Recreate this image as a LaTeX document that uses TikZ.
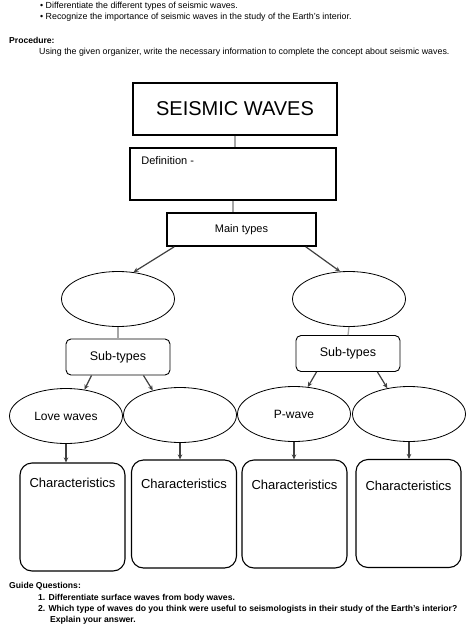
\documentclass[tikz,border=0pt]{standalone}
\usepackage{fontspec}
\setmainfont{Liberation Sans}
\usetikzlibrary{positioning,arrows.meta,shapes.geometric}

\begin{document}
\begin{tikzpicture}[
  x=1pt, y=-1pt,
  font=\fontsize{11}{13}\selectfont,
  hdr/.style={anchor=west, inner sep=0pt, font=\fontsize{8.85}{10}\selectfont},
  qline/.style={anchor=west, inner sep=0pt, font=\fontsize{8.6}{10}\selectfont\bfseries},
  bigbox/.style={draw, line width=1.6pt, inner sep=0pt},
  oval/.style={draw, ellipse, line width=0.8pt, minimum width=113pt,
               minimum height=55pt, inner sep=0pt, font=\fontsize{12}{14}\selectfont},
  subbox/.style={draw, rounded corners=5pt, line width=0.9pt, minimum width=104pt,
                 minimum height=36pt, font=\fontsize{12.5}{14}\selectfont},
  charbox/.style={draw, rounded corners=12pt, line width=1.1pt,
                  minimum width=105pt, minimum height=108pt},
  chartxt/.style={inner sep=0pt, font=\fontsize{13}{15}\selectfont},
  link/.style={gray!70, line width=1.3pt},
  arr/.style={-{Stealth[length=5pt,width=4.5pt]}, line width=1.2pt, black!75}
]
\fill[white] (0,0) rectangle (471,630);
\useasboundingbox (0,0) rectangle (471,630);

% header
\node[hdr] (obj1) at (40,6)  {\textbullet\ Differentiate the different types of seismic waves.};
\node[hdr] (obj2) at (40,17) {\textbullet\ Recognize the importance of seismic waves in the study of the Earth's interior.};
\node[qline] (proc) at (9,40) {Procedure:};
\node[hdr] (proctxt) at (39,52) {Using the given organizer, write the necessary information to complete the concept about seismic waves.};

% organizer
\node[bigbox, minimum width=204pt, minimum height=52pt, font=\fontsize{20}{22}\selectfont] (title) at (235,109) {SEISMIC WAVES\hspace{6pt}};
\node[bigbox, minimum width=206pt, minimum height=52pt] (defn) at (233,174) {};
\node[anchor=west, inner sep=0pt] (deftxt) at ([xshift=12pt,yshift=-13pt]defn.north west) {Definition -};
\node[bigbox, minimum width=149pt, minimum height=33pt] (main) at (241.5,229.5) {Main types};

\node[oval] (left)  at (118,299) {};
\node[oval] (right) at (349,299) {};
\node[subbox] (subL) at (118,357)   {Sub-types};
\node[subbox] (subR) at (348,353.5) {Sub-types};

\node[oval] (love)  at (66,416)  {Love waves};
\node[oval] (wavB)  at (180,415) {};
\node[oval] (pwave) at (294,414) {P-wave};
\node[oval] (wavD)  at (409,414) {};

\node[charbox] (ch1) at (72.5,517)  {};
\node[charbox] (ch2) at (184,514)   {};
\node[charbox] (ch3) at (294.5,514) {};
\node[charbox] (ch4) at (408.5,513.5) {};
\node[chartxt] (ct1) at ([yshift=-20pt]ch1.north) {Characteristics};
\node[chartxt] (ct2) at ([yshift=-24pt]ch2.north) {Characteristics};
\node[chartxt] (ct3) at ([yshift=-25pt]ch3.north) {Characteristics};
\node[chartxt] (ct4) at ([yshift=-27pt]ch4.north) {Characteristics};

\draw[link] (title) -- (title |- defn.north);
\draw[link] (defn.south) -- (defn.south |- main.north);
\draw[arr] ([xshift=8pt]main.south west) -- (left.60);
\draw[arr] ([xshift=-11pt]main.south east) -- (right.108);
\draw[link] (left.south) -- (subL.north);
\draw[link] (right.south) -- (subR.north);
\draw[arr] ([xshift=26pt]subL.south west) -- (love.55);
\draw[arr] ([xshift=-27pt]subL.south east) -- (wavB.138);
\draw[arr] ([xshift=21pt]subR.south west) -- (pwave.63);
\draw[arr] ([xshift=-23pt]subR.south east) -- (wavD.130);
\draw[arr] (love.south)  -- (love.south |- ch1.north);
\draw[arr] (wavB.south)  -- (wavB.south |- ch2.north);
\draw[arr] (pwave.south) -- (pwave.south |- ch3.north);
\draw[arr] (wavD.south)  -- (wavD.south |- ch4.north);

% guide questions
\node[qline] (guide) at (9,586) {Guide Questions:};
\node[qline] (q1) at (38,598) {1. Differentiate surface waves from body waves.};
\node[qline] (q2) at (38,609) {2. Which type of waves do you think were useful to seismologists in their study of the Earth's interior?};
\node[qline] (q2b) at (50,620) {Explain your answer.};
\end{tikzpicture}
\end{document}
